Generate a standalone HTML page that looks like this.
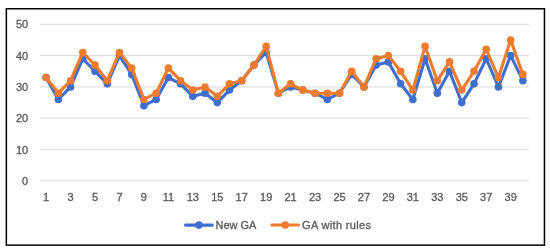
<!DOCTYPE html>
<html><head><meta charset="utf-8"><style>
html,body{margin:0;padding:0;background:#fff;width:550px;height:252px;overflow:hidden}
svg{display:block}
text{font-family:"Liberation Sans",sans-serif;font-size:11px;fill:#595959;stroke:#595959;stroke-width:0.3px}
</style></head><body>
<svg width="550" height="252" viewBox="0 0 550 252">
<rect x="6.35" y="8.75" width="538.1" height="236.4" fill="#fff" stroke="#000" stroke-width="1.5"/>
<line x1="40.0" y1="180.90" x2="529.0" y2="180.90" stroke="#D9D9D9" stroke-width="1"/>
<line x1="40.0" y1="149.58" x2="529.0" y2="149.58" stroke="#D9D9D9" stroke-width="1"/>
<line x1="40.0" y1="118.26" x2="529.0" y2="118.26" stroke="#D9D9D9" stroke-width="1"/>
<line x1="40.0" y1="86.94" x2="529.0" y2="86.94" stroke="#D9D9D9" stroke-width="1"/>
<line x1="40.0" y1="55.62" x2="529.0" y2="55.62" stroke="#D9D9D9" stroke-width="1"/>
<line x1="40.0" y1="24.30" x2="529.0" y2="24.30" stroke="#D9D9D9" stroke-width="1"/>
<text x="28.2" y="184.90" text-anchor="end">0</text>
<text x="28.2" y="153.58" text-anchor="end">10</text>
<text x="28.2" y="122.26" text-anchor="end">20</text>
<text x="28.2" y="90.94" text-anchor="end">30</text>
<text x="28.2" y="59.62" text-anchor="end">40</text>
<text x="28.2" y="28.30" text-anchor="end">50</text>
<text x="46.11" y="200.8" text-anchor="middle">1</text>
<text x="70.56" y="200.8" text-anchor="middle">3</text>
<text x="95.01" y="200.8" text-anchor="middle">5</text>
<text x="119.46" y="200.8" text-anchor="middle">7</text>
<text x="143.91" y="200.8" text-anchor="middle">9</text>
<text x="168.36" y="200.8" text-anchor="middle">11</text>
<text x="192.81" y="200.8" text-anchor="middle">13</text>
<text x="217.26" y="200.8" text-anchor="middle">15</text>
<text x="241.71" y="200.8" text-anchor="middle">17</text>
<text x="266.16" y="200.8" text-anchor="middle">19</text>
<text x="290.61" y="200.8" text-anchor="middle">21</text>
<text x="315.06" y="200.8" text-anchor="middle">23</text>
<text x="339.51" y="200.8" text-anchor="middle">25</text>
<text x="363.96" y="200.8" text-anchor="middle">27</text>
<text x="388.41" y="200.8" text-anchor="middle">29</text>
<text x="412.86" y="200.8" text-anchor="middle">31</text>
<text x="437.31" y="200.8" text-anchor="middle">33</text>
<text x="461.76" y="200.8" text-anchor="middle">35</text>
<text x="486.21" y="200.8" text-anchor="middle">37</text>
<text x="510.66" y="200.8" text-anchor="middle">39</text>
<polyline points="46.11,77.54 58.34,99.47 70.56,86.94 82.79,58.75 95.01,71.28 107.24,83.81 119.46,55.62 131.69,74.41 143.91,105.73 156.14,99.47 168.36,77.54 180.59,83.81 192.81,96.34 205.04,93.20 217.26,102.60 229.49,90.07 241.71,80.68 253.94,65.02 266.16,52.49 278.39,93.20 290.61,86.94 302.84,90.07 315.06,93.20 327.29,99.47 339.51,93.20 351.74,74.41 363.96,86.94 376.19,65.02 388.41,61.88 400.64,83.81 412.86,99.47 425.09,58.75 437.31,93.20 449.54,71.28 461.76,102.60 473.99,83.81 486.21,58.75 498.44,86.94 510.66,55.62 522.89,80.68" fill="none" stroke="#3E6ECE" stroke-width="3.1" stroke-linejoin="round" stroke-linecap="round"/>
<circle cx="46.11" cy="77.54" r="3.8" fill="#3E6ECE"/>
<circle cx="58.34" cy="99.47" r="3.8" fill="#3E6ECE"/>
<circle cx="70.56" cy="86.94" r="3.8" fill="#3E6ECE"/>
<circle cx="82.79" cy="58.75" r="3.8" fill="#3E6ECE"/>
<circle cx="95.01" cy="71.28" r="3.8" fill="#3E6ECE"/>
<circle cx="107.24" cy="83.81" r="3.8" fill="#3E6ECE"/>
<circle cx="119.46" cy="55.62" r="3.8" fill="#3E6ECE"/>
<circle cx="131.69" cy="74.41" r="3.8" fill="#3E6ECE"/>
<circle cx="143.91" cy="105.73" r="3.8" fill="#3E6ECE"/>
<circle cx="156.14" cy="99.47" r="3.8" fill="#3E6ECE"/>
<circle cx="168.36" cy="77.54" r="3.8" fill="#3E6ECE"/>
<circle cx="180.59" cy="83.81" r="3.8" fill="#3E6ECE"/>
<circle cx="192.81" cy="96.34" r="3.8" fill="#3E6ECE"/>
<circle cx="205.04" cy="93.20" r="3.8" fill="#3E6ECE"/>
<circle cx="217.26" cy="102.60" r="3.8" fill="#3E6ECE"/>
<circle cx="229.49" cy="90.07" r="3.8" fill="#3E6ECE"/>
<circle cx="241.71" cy="80.68" r="3.8" fill="#3E6ECE"/>
<circle cx="253.94" cy="65.02" r="3.8" fill="#3E6ECE"/>
<circle cx="266.16" cy="52.49" r="3.8" fill="#3E6ECE"/>
<circle cx="278.39" cy="93.20" r="3.8" fill="#3E6ECE"/>
<circle cx="290.61" cy="86.94" r="3.8" fill="#3E6ECE"/>
<circle cx="302.84" cy="90.07" r="3.8" fill="#3E6ECE"/>
<circle cx="315.06" cy="93.20" r="3.8" fill="#3E6ECE"/>
<circle cx="327.29" cy="99.47" r="3.8" fill="#3E6ECE"/>
<circle cx="339.51" cy="93.20" r="3.8" fill="#3E6ECE"/>
<circle cx="351.74" cy="74.41" r="3.8" fill="#3E6ECE"/>
<circle cx="363.96" cy="86.94" r="3.8" fill="#3E6ECE"/>
<circle cx="376.19" cy="65.02" r="3.8" fill="#3E6ECE"/>
<circle cx="388.41" cy="61.88" r="3.8" fill="#3E6ECE"/>
<circle cx="400.64" cy="83.81" r="3.8" fill="#3E6ECE"/>
<circle cx="412.86" cy="99.47" r="3.8" fill="#3E6ECE"/>
<circle cx="425.09" cy="58.75" r="3.8" fill="#3E6ECE"/>
<circle cx="437.31" cy="93.20" r="3.8" fill="#3E6ECE"/>
<circle cx="449.54" cy="71.28" r="3.8" fill="#3E6ECE"/>
<circle cx="461.76" cy="102.60" r="3.8" fill="#3E6ECE"/>
<circle cx="473.99" cy="83.81" r="3.8" fill="#3E6ECE"/>
<circle cx="486.21" cy="58.75" r="3.8" fill="#3E6ECE"/>
<circle cx="498.44" cy="86.94" r="3.8" fill="#3E6ECE"/>
<circle cx="510.66" cy="55.62" r="3.8" fill="#3E6ECE"/>
<circle cx="522.89" cy="80.68" r="3.8" fill="#3E6ECE"/>
<polyline points="46.11,77.54 58.34,93.20 70.56,80.68 82.79,52.49 95.01,65.02 107.24,80.68 119.46,52.49 131.69,68.15 143.91,99.47 156.14,93.20 168.36,68.15 180.59,80.68 192.81,90.07 205.04,86.94 217.26,96.34 229.49,83.81 241.71,80.68 253.94,65.02 266.16,46.22 278.39,93.20 290.61,83.81 302.84,90.07 315.06,93.20 327.29,93.20 339.51,93.20 351.74,71.28 363.96,86.94 376.19,58.75 388.41,55.62 400.64,71.28 412.86,90.07 425.09,46.22 437.31,80.68 449.54,61.88 461.76,90.07 473.99,71.28 486.21,49.36 498.44,77.54 510.66,39.96 522.89,74.41" fill="none" stroke="#EF7B2C" stroke-width="3.1" stroke-linejoin="round" stroke-linecap="round"/>
<circle cx="46.11" cy="77.54" r="3.8" fill="#EF7B2C"/>
<circle cx="58.34" cy="93.20" r="3.8" fill="#EF7B2C"/>
<circle cx="70.56" cy="80.68" r="3.8" fill="#EF7B2C"/>
<circle cx="82.79" cy="52.49" r="3.8" fill="#EF7B2C"/>
<circle cx="95.01" cy="65.02" r="3.8" fill="#EF7B2C"/>
<circle cx="107.24" cy="80.68" r="3.8" fill="#EF7B2C"/>
<circle cx="119.46" cy="52.49" r="3.8" fill="#EF7B2C"/>
<circle cx="131.69" cy="68.15" r="3.8" fill="#EF7B2C"/>
<circle cx="143.91" cy="99.47" r="3.8" fill="#EF7B2C"/>
<circle cx="156.14" cy="93.20" r="3.8" fill="#EF7B2C"/>
<circle cx="168.36" cy="68.15" r="3.8" fill="#EF7B2C"/>
<circle cx="180.59" cy="80.68" r="3.8" fill="#EF7B2C"/>
<circle cx="192.81" cy="90.07" r="3.8" fill="#EF7B2C"/>
<circle cx="205.04" cy="86.94" r="3.8" fill="#EF7B2C"/>
<circle cx="217.26" cy="96.34" r="3.8" fill="#EF7B2C"/>
<circle cx="229.49" cy="83.81" r="3.8" fill="#EF7B2C"/>
<circle cx="241.71" cy="80.68" r="3.8" fill="#EF7B2C"/>
<circle cx="253.94" cy="65.02" r="3.8" fill="#EF7B2C"/>
<circle cx="266.16" cy="46.22" r="3.8" fill="#EF7B2C"/>
<circle cx="278.39" cy="93.20" r="3.8" fill="#EF7B2C"/>
<circle cx="290.61" cy="83.81" r="3.8" fill="#EF7B2C"/>
<circle cx="302.84" cy="90.07" r="3.8" fill="#EF7B2C"/>
<circle cx="315.06" cy="93.20" r="3.8" fill="#EF7B2C"/>
<circle cx="327.29" cy="93.20" r="3.8" fill="#EF7B2C"/>
<circle cx="339.51" cy="93.20" r="3.8" fill="#EF7B2C"/>
<circle cx="351.74" cy="71.28" r="3.8" fill="#EF7B2C"/>
<circle cx="363.96" cy="86.94" r="3.8" fill="#EF7B2C"/>
<circle cx="376.19" cy="58.75" r="3.8" fill="#EF7B2C"/>
<circle cx="388.41" cy="55.62" r="3.8" fill="#EF7B2C"/>
<circle cx="400.64" cy="71.28" r="3.8" fill="#EF7B2C"/>
<circle cx="412.86" cy="90.07" r="3.8" fill="#EF7B2C"/>
<circle cx="425.09" cy="46.22" r="3.8" fill="#EF7B2C"/>
<circle cx="437.31" cy="80.68" r="3.8" fill="#EF7B2C"/>
<circle cx="449.54" cy="61.88" r="3.8" fill="#EF7B2C"/>
<circle cx="461.76" cy="90.07" r="3.8" fill="#EF7B2C"/>
<circle cx="473.99" cy="71.28" r="3.8" fill="#EF7B2C"/>
<circle cx="486.21" cy="49.36" r="3.8" fill="#EF7B2C"/>
<circle cx="498.44" cy="77.54" r="3.8" fill="#EF7B2C"/>
<circle cx="510.66" cy="39.96" r="3.8" fill="#EF7B2C"/>
<circle cx="522.89" cy="74.41" r="3.8" fill="#EF7B2C"/>
<line x1="185.5" y1="225.1" x2="212.2" y2="225.1" stroke="#3E6ECE" stroke-width="3.1" stroke-linecap="round"/>
<circle cx="198.9" cy="225.1" r="3.8" fill="#3E6ECE"/>
<text x="215.5" y="229">New GA</text>
<line x1="271.9" y1="225" x2="298.6" y2="225" stroke="#EF7B2C" stroke-width="3.1" stroke-linecap="round"/>
<circle cx="285.2" cy="225" r="3.8" fill="#EF7B2C"/>
<text x="302" y="229" textLength="69" lengthAdjust="spacing">GA with rules</text>
</svg>
</body></html>
